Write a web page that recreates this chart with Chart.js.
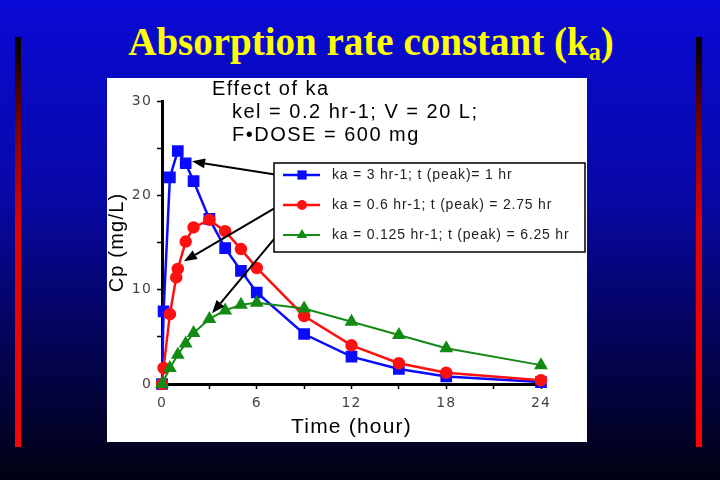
<!DOCTYPE html>
<html>
<head>
<meta charset="utf-8">
<script src="https://cdn.jsdelivr.net/npm/chart.js@4.4.1/dist/chart.umd.min.js"></script>
<style>
  html, body { margin: 0; padding: 0; }
  body {
    width: 720px; height: 480px; overflow: hidden; position: relative;
    background: linear-gradient(to bottom, #0a0ad6 0%, #0808a8 40%, #04045a 70%, #010112 100%);
  }
  #title {
    position: absolute; top: 19px; left: 0; width: 742px; text-align: center;
    font-family: "Liberation Serif", serif; font-weight: bold; font-size: 39px; color: #ffff00;
  }
  #title sub { font-size: 62%; vertical-align: -0.2em; }
  .bar {
    position: absolute; top: 37px; width: 6px; height: 410px;
    background: linear-gradient(to bottom, #000 0%, #8a0000 25%, #e00000 45%, #ff0000 100%);
  }
  #panel { position: absolute; left: 107px; top: 78px; width: 480px; height: 364px; background: #fff; }
</style>
</head>
<body>
<div id="title">Absorption rate constant (k<sub>a</sub>)</div>
<div class="bar" style="left:15px"></div>
<div class="bar" style="left:696px"></div>
<div id="panel"><canvas id="chart" width="480" height="364"></canvas></div>

<script>
// time points (hr) and plasma concentrations (mg/L)
const fastTimes = [0, 0.1, 0.5, 1, 1.5, 2, 3, 4, 5, 6, 9, 12, 15, 18, 24];
const fastCp = [0, 7.7, 21.9, 24.7, 23.4, 21.5, 17.5, 14.4, 12.0, 9.7, 5.3, 2.9, 1.6, 0.8, 0.2];

const midTimes = [0, 0.1, 0.5, 0.9, 1, 1.5, 2, 3, 4, 5, 6, 9, 12, 15, 18, 24];
const midCp = [0, 1.7, 7.4, 11.3, 12.2, 15.1, 16.6, 17.4, 16.2, 14.3, 12.3, 7.2, 4.1, 2.2, 1.2, 0.4];

const slowTimes = [0, 0.5, 1, 1.5, 2, 3, 4, 5, 6, 9, 12, 15, 18, 24];
const slowCp = [0, 1.7, 3.1, 4.3, 5.4, 6.9, 7.8, 8.4, 8.6, 8.0, 6.6, 5.2, 3.8, 2.0];

const seriesLabels = [
  "ka = 3 hr-1; t (peak)= 1 hr",
  "ka = 0.6 hr-1; t (peak) = 2.75 hr",
  "ka = 0.125 hr-1; t (peak) = 6.25 hr",
];

const xTicks = [0, 6, 12, 18, 24];
const yTicks = [0, 10, 20, 30];

const noteLines = ["Effect of ka", "kel = 0.2 hr-1; V = 20 L;", "F\u2022DOSE = 600 mg"];

// arrows from the legend to each curve, in data units [t0, c0, t1, c1]
const arrows = [
  [7.16, 22.2, 1.9, 23.6],
  [7.41, 18.9, 1.39, 13.0],
  [7.41, 16.0, 3.17, 7.5],
];

function pairs(times, values) {
  return times.map((t, i) => ({ x: t, y: values[i] }));
}

const BLUE = "#0a0aff";
const RED = "#ff1010";
const GREEN = "#138a13";
const SANS = "'Liberation Sans', Arial, sans-serif";

// the original uses a wide-set Mac font, so open up the spacing a bit
const spacing = {
  id: "spacing",
  beforeDraw(chart) {
    chart.ctx.letterSpacing = "1.2px";
  },
};

const overlay = {
  id: "overlay",
  afterDatasetsDraw(chart) {
    const ctx = chart.ctx;
    const xs = chart.scales.x;
    const ys = chart.scales.y;
    ctx.save();

    // note text at top
    ctx.fillStyle = "#000";
    ctx.font = "20px " + SANS;
    ctx.letterSpacing = "1.5px";
    ctx.textBaseline = "alphabetic";
    ctx.fillText(noteLines[0], 105, 17);
    ctx.fillText(noteLines[1], 125, 40);
    ctx.fillText(noteLines[2], 125, 63);

    // arrows
    ctx.strokeStyle = "#000";
    ctx.fillStyle = "#000";
    ctx.lineWidth = 2;
    arrows.forEach((a) => {
      const x0 = xs.getPixelForValue(a[0]);
      const y0 = ys.getPixelForValue(a[1]);
      const x1 = xs.getPixelForValue(a[2]);
      const y1 = ys.getPixelForValue(a[3]);
      const ang = Math.atan2(y1 - y0, x1 - x0);
      const len = 13, half = 5;
      const bx = x1 - len * Math.cos(ang);
      const by = y1 - len * Math.sin(ang);
      ctx.beginPath();
      ctx.moveTo(x0, y0);
      ctx.lineTo(bx, by);
      ctx.stroke();
      ctx.beginPath();
      ctx.moveTo(x1, y1);
      ctx.lineTo(bx + half * Math.sin(ang), by - half * Math.cos(ang));
      ctx.lineTo(bx - half * Math.sin(ang), by + half * Math.cos(ang));
      ctx.closePath();
      ctx.fill();
    });

    // legend box
    const lx = 167, ly = 85, lw = 311, lh = 89;
    ctx.fillStyle = "#fff";
    ctx.fillRect(lx, ly, lw, lh);
    ctx.strokeStyle = "#000";
    ctx.lineWidth = 1.5;
    ctx.strokeRect(lx, ly, lw, lh);

    ctx.font = "14px " + SANS;
    ctx.letterSpacing = "0.8px";
    ctx.textBaseline = "middle";
    chart.data.datasets.forEach((ds, i) => {
      const y = 97 + i * 30;
      ctx.strokeStyle = ds.borderColor;
      ctx.lineWidth = ds.borderWidth;
      ctx.beginPath();
      ctx.moveTo(176, y);
      ctx.lineTo(213, y);
      ctx.stroke();
      ctx.fillStyle = ds.borderColor;
      Chart.helpers.drawPoint(ctx, {
        pointStyle: ds.pointStyle, radius: ds.pointRadius, borderWidth: 0
      }, 195, y);
      ctx.fillStyle = "#222";
      ctx.fillText(seriesLabels[i], 225, y);
    });
    ctx.restore();
  },
};

const ctx = document.getElementById("chart").getContext("2d");
new Chart(ctx, {
  type: "line",
  data: {
    datasets: [
      {
        label: seriesLabels[0],
        data: pairs(fastTimes, fastCp),
        borderColor: BLUE, backgroundColor: BLUE,
        borderWidth: 2.5, pointStyle: "rect", pointRadius: 6.5,
        order: 3,
      },
      {
        label: seriesLabels[1],
        data: pairs(midTimes, midCp),
        borderColor: RED, backgroundColor: RED,
        borderWidth: 2.5, pointStyle: "circle", pointRadius: 5,
        order: 2,
      },
      {
        label: seriesLabels[2],
        data: pairs(slowTimes, slowCp),
        borderColor: GREEN, backgroundColor: GREEN,
        borderWidth: 2, pointStyle: "triangle", pointRadius: 6,
        order: 1,
      },
    ],
  },
  options: {
    responsive: false,
    animation: false,
    clip: false,
    layout: { padding: { top: 23, right: 46, left: 0, bottom: 0 } },
    plugins: { legend: { display: false }, tooltip: { enabled: false } },
    elements: { line: { tension: 0 }, point: { borderWidth: 0 } },
    scales: {
      x: {
        type: "linear", min: 0, max: 24,
        afterFit: (s) => { s.height = 58; },
        ticks: {
          stepSize: 3, padding: 6, color: "#444",
          font: { family: "'DejaVu Sans', sans-serif", size: 14 },
          callback: (v) => (xTicks.includes(v) ? v : ""),
          maxRotation: 0, autoSkip: false,
        },
        grid: { drawOnChartArea: false, tickLength: 5, tickColor: "#000", tickWidth: 1.5 },
        border: { color: "#000", width: 3 },
        title: {
          display: true, text: "Time (hour)", color: "#000",
          font: { family: SANS, size: 21 },
          padding: { top: 0, bottom: 2 },
        },
      },
      y: {
        min: 0, max: 30,
        afterFit: (s) => { s.width = 55; },
        ticks: {
          stepSize: 5, padding: 5, color: "#444",
          font: { family: "'DejaVu Sans', sans-serif", size: 14 },
          callback: (v) => (yTicks.includes(v) ? v : ""),
          autoSkip: false,
        },
        grid: { drawOnChartArea: false, tickLength: 5, tickColor: "#000", tickWidth: 1.5 },
        border: { color: "#000", width: 3 },
        title: {
          display: true, text: "Cp (mg/L)", color: "#000",
          font: { family: SANS, size: 20, lineHeight: 1 },
          padding: { top: 0, bottom: 0 },
        },
      },
    },
  },
  plugins: [spacing, overlay],
});
</script>
</body>
</html>
